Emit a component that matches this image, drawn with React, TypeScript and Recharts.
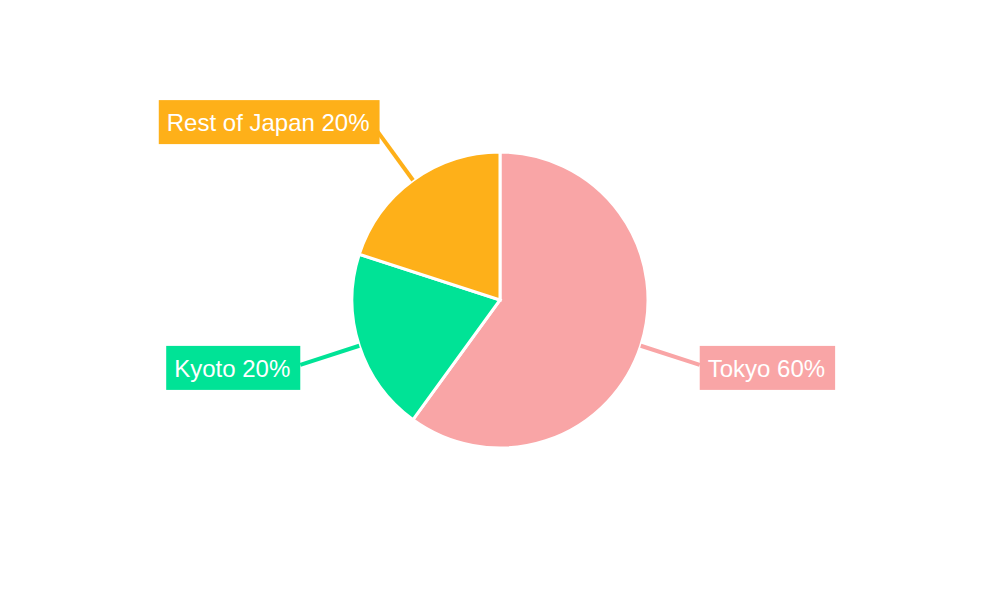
import React from "react";
import { PieChart, Pie, Cell } from "recharts";

const categories = ["Tokyo", "Kyoto", "Rest of Japan"];
const values = [60, 20, 20];
const colors = ["#F9A5A6", "#00E396", "#FEB019"];

const data = categories.map((name, i) => ({ name, value: values[i] }));

const RADIAN = Math.PI / 180;
const FONT_SIZE = 24;
const FONT = `${FONT_SIZE}px 'Liberation Sans', Arial, sans-serif`;

let ctx: CanvasRenderingContext2D | null = null;
function measure(text: string): number {
  if (!ctx) {
    const c = document.createElement("canvas");
    ctx = c.getContext("2d");
  }
  if (!ctx) return text.length * FONT_SIZE * 0.55;
  ctx.font = FONT;
  return ctx.measureText(text).width;
}

const renderLabel = (props: any) => {
  const { cx, cy, midAngle, outerRadius, name, percent, index } = props;
  const color = colors[index % colors.length];
  const cos = Math.cos(-midAngle * RADIAN);
  const sin = Math.sin(-midAngle * RADIAN);
  const sx = cx + outerRadius * cos;
  const sy = cy + outerRadius * sin;
  const ex = cx + (outerRadius + 62) * cos;
  const ey = cy + (outerRadius + 62) * sin;
  const text = `${name} ${Math.round(percent * 100)}%`;
  const tw = measure(text);
  const padL = 8;
  const padR = 10;
  const w = tw + padL + padR;
  const h = 44;
  const right = cos >= 0;
  const upper = sin < 0;
  const bx = right ? ex : ex - w + (upper ? 3 : 0);
  const centerY = upper ? ey - 8 : ey + 3;
  const by = centerY - h / 2;
  return (
    <g>
      <line x1={sx} y1={sy} x2={ex} y2={ey} stroke={color} strokeWidth={4} />
      <rect x={bx} y={by} width={w} height={h} fill={color} />
      <text
        x={bx + padL}
        y={centerY}
        dy="0.36em"
        fill="#ffffff"
        fontSize={FONT_SIZE}
        fontFamily="'Liberation Sans', Arial, sans-serif"
        textAnchor="start"
      >
        {text}
      </text>
    </g>
  );
};

export default function App() {
  return (
    <div style={{ position: "absolute", left: 0, top: 0, width: 1000, height: 600, background: "#fff" }}>
      <PieChart width={1000} height={600} margin={{ top: 0, right: 0, bottom: 0, left: 0 }}>
        <Pie
          data={data}
          dataKey="value"
          nameKey="name"
          cx={500}
          cy={300}
          outerRadius={148}
          startAngle={90}
          endAngle={-270}
          stroke="#ffffff"
          strokeWidth={3}
          label={renderLabel}
          labelLine={false}
          isAnimationActive={false}
        >
          {data.map((d, i) => (
            <Cell key={d.name} fill={colors[i]} />
          ))}
        </Pie>
      </PieChart>
    </div>
  );
}
